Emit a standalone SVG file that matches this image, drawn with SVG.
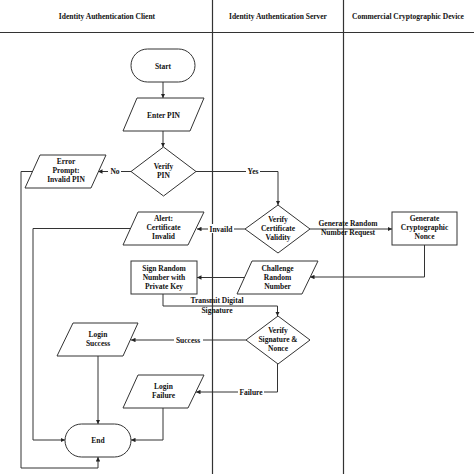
<svg xmlns="http://www.w3.org/2000/svg" width="474" height="474" viewBox="0 0 474 474">
<defs>
<marker id="ah" viewBox="0 0 8 8" refX="8" refY="4" markerWidth="4.5" markerHeight="4.5" orient="auto" markerUnits="userSpaceOnUse">
<path d="M0,0 L8,4 L0,8 Z" fill="#222"/>
</marker>
<style>
.sh{fill:#fff;stroke:#333;stroke-width:1}
.ln{fill:none;stroke:#333;stroke-width:1}
.ar{fill:none;stroke:#333;stroke-width:1;marker-end:url(#ah)}
.lane{stroke:#333;stroke-width:1.2}
text{font-family:"Liberation Serif","Times New Roman",serif;font-weight:bold;font-size:7.5px;fill:#111;text-anchor:middle}
.lb{fill:#fff}
</style>
</defs>
<rect width="474" height="474" fill="#fff"/>
<g id="lanes">
<line class="lane" x1="0" y1="32.5" x2="474" y2="32.5"/>
<line class="lane" x1="212.5" y1="0" x2="212.5" y2="474"/>
<line class="lane" x1="343.5" y1="0" x2="343.5" y2="474"/>
<text x="107" y="18.5">Identity Authentication Client</text>
<text x="278" y="18.5">Identity Authentication Server</text>
<text x="408" y="18.5">Commercial Cryptographic Device</text>
</g>
<g id="connectors">
<path class="ar" d="M163,82 V98"/>
<path class="ar" d="M163,131 V147"/>
<path class="ar" d="M131,171.5 H98"/>
<path class="ln" d="M32,171.5 H21 V468 H98"/>
<path class="ar" d="M98,468 V457"/>
<path class="ar" d="M196,171.5 H278 V205"/>
<path class="ar" d="M245,229 H197"/>
<path class="ln" d="M130,228.5 H33 V440"/>
<path class="ar" d="M33,440 H65"/>
<path class="ar" d="M310,229 H392"/>
<path class="ar" d="M424.5,245 V277 H310"/>
<path class="ar" d="M245,277.5 H197"/>
<path class="ar" d="M163,294 V306 H277.5 V316"/>
<path class="ar" d="M246,340 H131"/>
<path class="ar" d="M277.5,364 V392 H196"/>
<path class="ar" d="M98,356 V424"/>
<path class="ln" d="M163,408 V440"/>
<path class="ar" d="M163,440 H131"/>
<rect class="lb" x="108" y="167" width="13" height="9"/>
<text x="115" y="174">No</text>
<rect class="lb" x="246" y="167" width="14" height="9"/>
<text x="253" y="174">Yes</text>
<rect class="lb" x="208" y="224" width="26" height="9"/>
<text x="221" y="231.5">Invaild</text>
<text x="348" y="226">Generate Random</text>
<text x="348" y="235">Number Request</text>
<text x="217" y="303">Transmit Digital</text>
<text x="217" y="313">Signature</text>
<rect class="lb" x="174" y="335" width="29" height="9"/>
<text x="188" y="342.5">Success</text>
<rect class="lb" x="238" y="387" width="26" height="9"/>
<text x="251" y="394.5">Failure</text>
</g>
<g id="start">
<rect class="sh" x="131" y="49" width="64" height="33" rx="16.5"/>
<text x="163" y="68.5">Start</text>
</g>
<g id="enter-pin">
<polygon class="sh" points="137,98 204,98 190,131 123,131"/>
<text x="163.5" y="117.5">Enter PIN</text>
</g>
<g id="verify-pin">
<polygon class="sh" points="163.5,147 196,171.5 163.5,196 131,171.5"/>
<text x="163.5" y="169">Verify</text>
<text x="163.5" y="178">PIN</text>
</g>
<g id="error-prompt">
<polygon class="sh" points="40,155 106,155 91,188 25,188"/>
<text x="66" y="164">Error</text>
<text x="66" y="173">Prompt:</text>
<text x="66" y="182">Invalid PIN</text>
</g>
<g id="verify-cert">
<polygon class="sh" points="278,205 310,229 278,253 245,229"/>
<text x="278" y="222">Verify</text>
<text x="278" y="231">Certificate</text>
<text x="278" y="240">Validity</text>
</g>
<g id="alert">
<polygon class="sh" points="138,212 204,212 188,245 123,245"/>
<text x="163.5" y="221">Alert:</text>
<text x="163.5" y="230">Certificate</text>
<text x="163.5" y="239">Invalid</text>
</g>
<g id="gen-nonce">
<rect class="sh" x="392" y="212" width="65" height="33"/>
<text x="424.5" y="221">Generate</text>
<text x="424.5" y="230">Cryptographic</text>
<text x="424.5" y="239">Nonce</text>
</g>
<g id="challenge">
<polygon class="sh" points="252,261 318,261 302,294 237,294"/>
<text x="277.5" y="271">Challenge</text>
<text x="277.5" y="280">Random</text>
<text x="277.5" y="289">Number</text>
</g>
<g id="sign">
<rect class="sh" x="131" y="261" width="66" height="33"/>
<text x="164" y="270.5">Sign Random</text>
<text x="164" y="279.5">Number with</text>
<text x="164" y="288.5">Private Key</text>
</g>
<g id="verify-sig">
<polygon class="sh" points="278,316 310,340 278,364 246,340"/>
<text x="278" y="333">Verify</text>
<text x="278" y="342">Signature &amp;</text>
<text x="278" y="351">Nonce</text>
</g>
<g id="login-success">
<polygon class="sh" points="73,323 138,323 123,356 57,356"/>
<text x="98" y="337">Login</text>
<text x="98" y="346">Success</text>
</g>
<g id="login-failure">
<polygon class="sh" points="138,375 204,375 188,408 123,408"/>
<text x="163.5" y="389">Login</text>
<text x="163.5" y="398">Failure</text>
</g>
<g id="end">
<rect class="sh" x="65" y="424" width="66" height="33" rx="16.5"/>
<text x="98" y="443">End</text>
</g>
</svg>
